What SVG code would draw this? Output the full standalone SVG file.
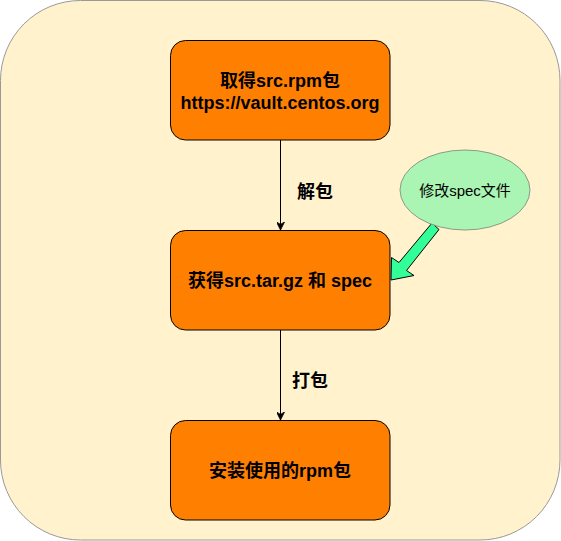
<svg xmlns="http://www.w3.org/2000/svg" width="561" height="541" viewBox="0 0 561 541">
<defs>
<style>
.box{fill:#ff8000;stroke:#000;stroke-width:1}
.t{font-family:"Liberation Sans","Noto Sans CJK SC",sans-serif;font-size:18px;font-weight:bold;fill:#000;text-anchor:middle}
.s{font-family:"Noto Sans CJK SC",sans-serif;font-size:15px;fill:#000;text-anchor:middle}
.l{font-family:"Liberation Sans",Arial,sans-serif}
.c{stroke:#000;stroke-width:1;fill:none}
</style>
<marker id="ah" viewBox="0 0 10 10" refX="10" refY="5" markerWidth="8" markerHeight="8" markerUnits="userSpaceOnUse" orient="auto">
<path d="M0,0 L10,5 L0,10 L3,5 Z" fill="#000" stroke="#000"/>
</marker>
</defs>
<g id="background">
<rect x="0.5" y="0.5" width="559.5" height="539.5" rx="80" ry="80" fill="#fff2cc" stroke="#999999" stroke-width="1"/>
</g>
<g id="connectors">
<line class="c" x1="280.5" y1="140" x2="280.5" y2="230" marker-end="url(#ah)"/>
<line class="c" x1="280.5" y1="330" x2="280.5" y2="420" marker-end="url(#ah)"/>
<polygon points="432,223 439,229.5 406.5,270.5 414,275.5 391,280 391.5,257.5 399,262.5" fill="#33ff99" stroke="#000" stroke-width="1"/>
<text class="t" x="315" y="198">解包</text>
<text class="t" x="310" y="387">打包</text>
</g>
<g id="node1">
<rect class="box" x="170.5" y="40.5" width="219.5" height="99.5" rx="15" ry="15"/>
<text class="t" x="280" y="87">取得src.rpm包</text>
<text class="t" x="280" y="108.5">https://vault.centos.org</text>
</g>
<g id="node2">
<rect class="box" x="170.5" y="230.5" width="219.5" height="99.5" rx="15" ry="15"/>
<text class="t" x="280" y="286.5">获得src.tar.gz 和 spec</text>
</g>
<g id="node3">
<rect class="box" x="170.5" y="420.5" width="219.5" height="99.5" rx="15" ry="15"/>
<text class="t" x="280" y="476.5">安装使用的rpm包</text>
</g>
<g id="note">
<ellipse cx="465" cy="190" rx="65" ry="40" fill="#abf5b4" stroke="#8a9a8a" stroke-width="1"/>
<text class="s" x="465" y="196">修改<tspan class="l">spec</tspan>文件</text>
</g>
</svg>
